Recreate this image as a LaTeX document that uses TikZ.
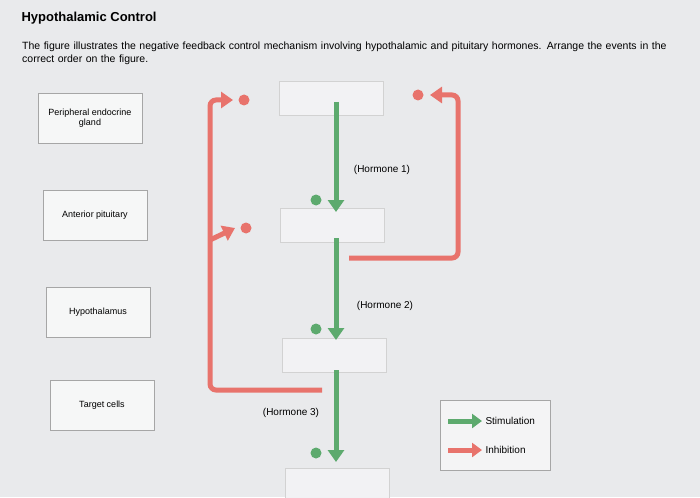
\documentclass[tikz,border=0pt]{standalone}
\usepackage{fontspec}
\setmainfont{Liberation Sans}
\usetikzlibrary{arrows.meta}
\definecolor{gr}{HTML}{5DAA6E}
\definecolor{rd}{HTML}{E8736C}
\definecolor{bg}{HTML}{E9EAEC}
\begin{document}
\begin{tikzpicture}[x=1pt,y=-1pt,
  lbox/.style={draw=gray!70,fill=white!60!bg,minimum width=104pt,minimum height=50pt,font=\fontsize{9}{10}\selectfont,align=center,inner sep=2pt},
  ebox/.style={draw=gray!35,fill=white!40!bg,minimum width=104pt,minimum height=34pt},
  garr/.style={gr,line width=5pt,-{Triangle[length=12pt,width=16pt]}},
  rarr/.style={rd,line width=5pt,rounded corners=6pt,-{Triangle[length=12pt,width=16pt]}},
  gdot/.style={circle,fill=gr,inner sep=0pt,minimum size=11pt},
  rdot/.style={circle,fill=rd,inner sep=0pt,minimum size=11pt},
  hl/.style={font=\fontsize{10}{12}\selectfont}]
\fill[bg] (0,0) rectangle (700,497);
\useasboundingbox (0,0) rectangle (700,497);
\node[anchor=west,font=\bfseries\fontsize{13}{15}\selectfont] (title) at (18,18) {Hypothalamic Control};
\node[anchor=north west,align=left,font=\fontsize{10.5}{12.5}\selectfont,inner sep=0pt,text width=660pt] (desc) at (22,42) {The figure illustrates the negative feedback control mechanism involving hypothalamic and pituitary hormones. Arrange the events in the correct order on the figure.};
\node[lbox] (peg) at (90,118) {Peripheral endocrine\\gland};
\node[lbox] (ap) at (95,215) {Anterior pituitary};
\node[lbox] (hy) at (98,312) {Hypothalamus};
\node[lbox] (tc) at (102,405) {Target cells};
\node[ebox] (e1) at (331,98) {};
\node[ebox] (e2) at (332,225) {};
\node[ebox] (e3) at (334,355) {};
\node[ebox,minimum height=40pt] (e4) at (337,488) {};
\coordinate (g1s) at (336,102); \coordinate (g1e) at (336,212);
\coordinate (g2s) at (336,238); \coordinate (g2e) at (336,340);
\coordinate (g3s) at (336,370); \coordinate (g3e) at (336,462);
\draw[garr] (g1s) -- (g1e);
\draw[garr] (g2s) -- (g2e);
\draw[garr] (g3s) -- (g3e);
\node[gdot] (d1) at (316,200) {};
\node[gdot] (d2) at (316,329) {};
\node[gdot] (d3) at (316,453) {};
\node[hl] (h1) at (382,170) {(Hormone 1)};
\node[hl] (h2) at (385,306) {(Hormone 2)};
\node[hl] (h3) at (291,413) {(Hormone 3)};
\coordinate (r1s) at (322,390);
\coordinate (r1e) at (233,100);
\node[rdot] (rd1) at (244,100) {};
\draw[rarr] (r1s) -- (210,390) -- (210,100) -- (r1e);
\node[rdot] (rd2) at (246,228) {};
\draw[rd,line width=5pt,-{Triangle[length=12pt,width=16pt]}] (210,240) -- (235,228);
\coordinate (r3s) at (349,258);
\node[rdot] (rd3) at (418,95) {};
\draw[rarr] (r3s) -- (458,258) -- (458,95) -- (430,95);
\node[draw=gray!70,fill=white!50!bg,minimum width=110pt,minimum height=70pt] (leg) at (495,435) {};
\draw[gr,line width=5pt,-{Triangle[length=10pt,width=14pt]}] (448,421) -- (482,421);
\draw[rd,line width=5pt,-{Triangle[length=10pt,width=14pt]}] (448,450) -- (482,450);
\node[anchor=west,hl] (st) at (482,421) {Stimulation};
\node[anchor=west,hl] (in) at (482,450) {Inhibition};
\end{tikzpicture}
\end{document}
